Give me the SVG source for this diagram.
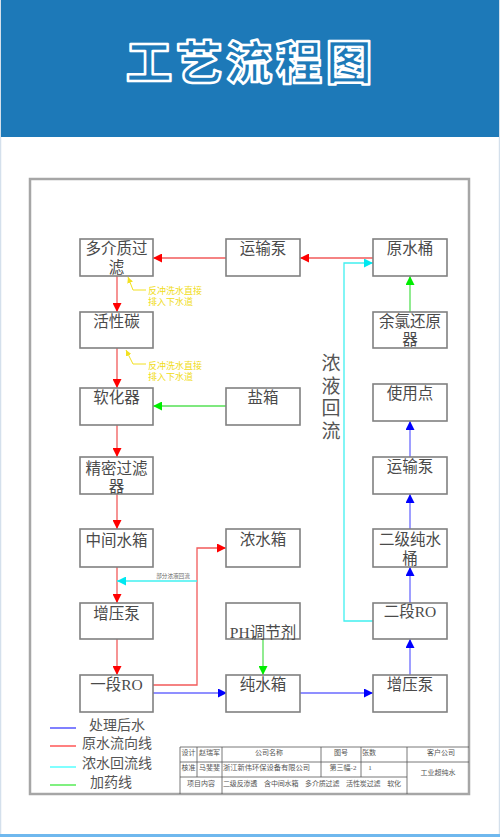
<svg xmlns="http://www.w3.org/2000/svg" width="500" height="837" viewBox="0 0 500 837">
<style>
.box{fill:#fff;stroke:#808080;stroke-width:1.6}
.bt{font-family:"Liberation Serif","Noto Sans CJK SC",serif;font-size:15.5px;fill:#4a4a4a;text-anchor:middle}
.red{fill:none;stroke:#f25a5a;stroke-width:1.3}
.blue{fill:none;stroke:#6a6aff;stroke-width:1.3}
.green{fill:none;stroke:#55e055;stroke-width:1.3}
.cyan{fill:none;stroke:#40f0f0;stroke-width:1.3}
.yel{fill:none;stroke:#f2e020;stroke-width:1}
.note{font-family:"Liberation Serif","Noto Sans CJK SC",serif;font-size:9px;fill:#f0dc20}
.leg{font-family:"Liberation Serif","Noto Sans CJK SC",serif;font-size:14px;fill:#555}
.tb{font-family:"Liberation Serif","Noto Sans CJK SC",serif;font-size:7px;fill:#555}
.tl{stroke:#555;stroke-width:0.8;fill:none}
</style>
<defs>
<marker id="ar" markerUnits="userSpaceOnUse" markerWidth="9" markerHeight="9" refX="9" refY="4.5" orient="auto"><path d="M0,0 L9,4.5 L0,9 z" fill="#ff0000"/></marker>
<marker id="ab" markerUnits="userSpaceOnUse" markerWidth="9" markerHeight="9" refX="9" refY="4.5" orient="auto"><path d="M0,0 L9,4.5 L0,9 z" fill="#0000ff"/></marker>
<marker id="ag" markerUnits="userSpaceOnUse" markerWidth="9" markerHeight="9" refX="9" refY="4.5" orient="auto"><path d="M0,0 L9,4.5 L0,9 z" fill="#00ee00"/></marker>
<marker id="ac" markerUnits="userSpaceOnUse" markerWidth="9" markerHeight="9" refX="9" refY="4.5" orient="auto"><path d="M0,0 L9,4.5 L0,9 z" fill="#00e8f0"/></marker>
<marker id="ay" markerUnits="userSpaceOnUse" markerWidth="6" markerHeight="6" refX="6" refY="3" orient="auto"><path d="M0,0 L6,3 L0,6 z" fill="#f2e020"/></marker>
</defs>
<rect x="0" y="0" width="500" height="837" fill="#ffffff"/>
<rect x="0.5" y="0.5" width="499" height="836" fill="none" stroke="#d4e0ec" stroke-width="1.5"/>
<rect x="1" y="0" width="498" height="137" fill="#1d79b8"/>
<rect x="0" y="834" width="500" height="3" fill="#6fb8ee"/>
<g id="title">
<text x="251" y="79" text-anchor="middle" font-family="Noto Sans CJK SC,sans-serif" font-weight="900" font-size="46" letter-spacing="4" fill="#1d79b8" stroke="#ffffff" stroke-width="2.5" stroke-linejoin="round">工艺流程图</text>
</g>
<rect id="frame" x="30" y="179" width="439" height="615" fill="none" stroke="#a6a6a6" stroke-width="2.5"/>

<g id="connectors">
<path class="red" d="M226,258 H153" marker-end="url(#ar)"/>
<path class="red" d="M373,258 H300" marker-end="url(#ar)"/>
<path class="red" d="M117,276 V312" marker-end="url(#ar)"/>
<path class="red" d="M117,348 V388" marker-end="url(#ar)"/>
<path class="red" d="M117,425 V457" marker-end="url(#ar)"/>
<path class="red" d="M117,494 V529" marker-end="url(#ar)"/>
<path class="red" d="M117,567 V603" marker-end="url(#ar)"/>
<path class="red" d="M117,639 V675" marker-end="url(#ar)"/>
<path class="red" d="M153,685 H197 V548 H226" marker-end="url(#ar)"/>
<path class="green" d="M226,406 H153" marker-end="url(#ag)"/>
<path class="green" d="M263,639 V675" marker-end="url(#ag)"/>
<path class="green" d="M410,312 V276" marker-end="url(#ag)"/>
<path class="blue" d="M153,693 H227" marker-end="url(#ab)"/>
<path class="blue" d="M299,693 H373" marker-end="url(#ab)"/>
<path class="blue" d="M410,675 V639" marker-end="url(#ab)"/>
<path class="blue" d="M410,603 V567" marker-end="url(#ab)"/>
<path class="blue" d="M410,529 V494" marker-end="url(#ab)"/>
<path class="blue" d="M410,457 V421" marker-end="url(#ab)"/>
<path class="cyan" d="M197,581 H117" marker-end="url(#ac)"/>
<path class="cyan" d="M373,621 H344 V263 H373" marker-end="url(#ac)"/>
<path class="yel" d="M146,290 H133 L128,277" marker-end="url(#ay)"/>
<path class="yel" d="M146,364 H133 L126,350" marker-end="url(#ay)"/>
</g>

<g id="n_multimedia"><rect class="box" x="80" y="239" width="73" height="37"/><text class="bt" x="116.5" y="254">多介质过</text><text class="bt" x="116.5" y="273">滤</text></g>
<g id="n_carbon"><rect class="box" x="80" y="312" width="73" height="36"/><text class="bt" x="116.5" y="327">活性碳</text></g>
<g id="n_softener"><rect class="box" x="80" y="388" width="73" height="37"/><text class="bt" x="116.5" y="403">软化器</text></g>
<g id="n_precision"><rect class="box" x="80" y="457" width="73" height="37"/><text class="bt" x="116.5" y="474">精密过滤</text><text class="bt" x="116.5" y="492">器</text></g>
<g id="n_midtank"><rect class="box" x="80" y="529" width="73" height="38"/><text class="bt" x="116.5" y="546">中间水箱</text></g>
<g id="n_booster1"><rect class="box" x="80" y="603" width="73" height="36"/><text class="bt" x="116.5" y="619">增压泵</text></g>
<g id="n_ro1"><rect class="box" x="80" y="675" width="73" height="37"/><text class="bt" x="116.5" y="690">一段RO</text></g>

<g id="n_pump1"><rect class="box" x="226" y="239" width="74" height="37"/><text class="bt" x="263" y="254">运输泵</text></g>
<g id="n_salt"><rect class="box" x="226" y="388" width="74" height="37"/><text class="bt" x="263" y="403">盐箱</text></g>
<g id="n_conc"><rect class="box" x="226" y="529" width="74" height="38"/><text class="bt" x="263" y="545">浓水箱</text></g>
<g id="n_ph"><rect class="box" x="226" y="603" width="74" height="36"/><text class="bt" x="263" y="638">PH调节剂</text></g>
<g id="n_pure"><rect class="box" x="226" y="675" width="74" height="37"/><text class="bt" x="263" y="690">纯水箱</text></g>

<g id="n_raw"><rect class="box" x="373" y="239" width="74" height="37"/><text class="bt" x="410" y="254">原水桶</text></g>
<g id="n_chlorine"><rect class="box" x="373" y="312" width="74" height="36"/><text class="bt" x="410" y="327">余氯还原</text><text class="bt" x="410" y="345">器</text></g>
<g id="n_use"><rect class="box" x="373" y="384" width="74" height="37"/><text class="bt" x="410" y="399">使用点</text></g>
<g id="n_pump2"><rect class="box" x="373" y="457" width="74" height="37"/><text class="bt" x="410" y="472">运输泵</text></g>
<g id="n_tank2"><rect class="box" x="373" y="529" width="74" height="38"/><text class="bt" x="410" y="545">二级纯水</text><text class="bt" x="410" y="564">桶</text></g>
<g id="n_ro2"><rect class="box" x="373" y="603" width="74" height="36"/><text class="bt" x="410" y="617">二段RO</text></g>
<g id="n_booster2"><rect class="box" x="373" y="675" width="74" height="37"/><text class="bt" x="410" y="690">增压泵</text></g>

<g id="labels">
<text class="note" x="148" y="294">反冲洗水直接</text>
<text class="note" x="148" y="305">排入下水道</text>
<text class="note" x="148" y="369">反冲洗水直接</text>
<text class="note" x="148" y="380">排入下水道</text>
<text x="173" y="578" text-anchor="middle" font-family="Liberation Serif,Noto Sans CJK SC,serif" font-size="5.6" fill="#666">部分浓液回流</text>
<g font-family="Liberation Serif,Noto Sans CJK SC,serif" font-size="19" fill="#555" text-anchor="middle">
<text x="331" y="370">浓</text><text x="331" y="393">液</text><text x="331" y="415">回</text><text x="331" y="438">流</text>
</g>
</g>

<g id="legend">
<line x1="50" y1="728" x2="76" y2="728" stroke="#8080ff" stroke-width="2"/>
<line x1="50" y1="746" x2="76" y2="746" stroke="#ff8080" stroke-width="2"/>
<line x1="50" y1="767" x2="76" y2="767" stroke="#80ffff" stroke-width="2"/>
<line x1="50" y1="785" x2="76" y2="785" stroke="#80f080" stroke-width="2"/>
<text class="leg" x="89" y="730">处理后水</text>
<text class="leg" x="82" y="748">原水流向线</text>
<text class="leg" x="82" y="768">浓水回流线</text>
<text class="leg" x="90" y="787">加药线</text>
</g>

<g id="titleblock">
<path class="tl" d="M180,747 H469 M180,762 H407 M180,777 H407 M407,762 H469 M180,747 V794 M197,747 V777 M222,747 V794 M321,747 V777 M361,747 V777 M407,747 V794"/>
<text class="tb" x="188.5" y="755" text-anchor="middle">设计</text>
<text class="tb" x="209.5" y="755" text-anchor="middle">赵瑞军</text>
<text class="tb" x="269" y="755" text-anchor="middle">公司名称</text>
<text class="tb" x="341" y="755" text-anchor="middle">图号</text>
<text class="tb" x="362" y="755">张数</text>
<text class="tb" x="441" y="755" text-anchor="middle">客户公司</text>
<text class="tb" x="188.5" y="770" text-anchor="middle">核准</text>
<text class="tb" x="209.5" y="770" text-anchor="middle">马斐斐</text>
<text class="tb" x="223" y="770" textLength="87" lengthAdjust="spacingAndGlyphs">浙江新伟环保设备有限公司</text>
<text class="tb" x="343" y="770" text-anchor="middle">第三幅-2</text>
<text class="tb" x="370" y="770" text-anchor="middle">1</text>
<text class="tb" x="438" y="775" text-anchor="middle">工业超纯水</text>
<text class="tb" x="201" y="786" text-anchor="middle">项目内容</text>
<text class="tb" x="223" y="786" textLength="178" lengthAdjust="spacing">二级反渗透　含中间水箱　多介质过滤　活性炭过滤　软化</text>
</g>
</svg>
